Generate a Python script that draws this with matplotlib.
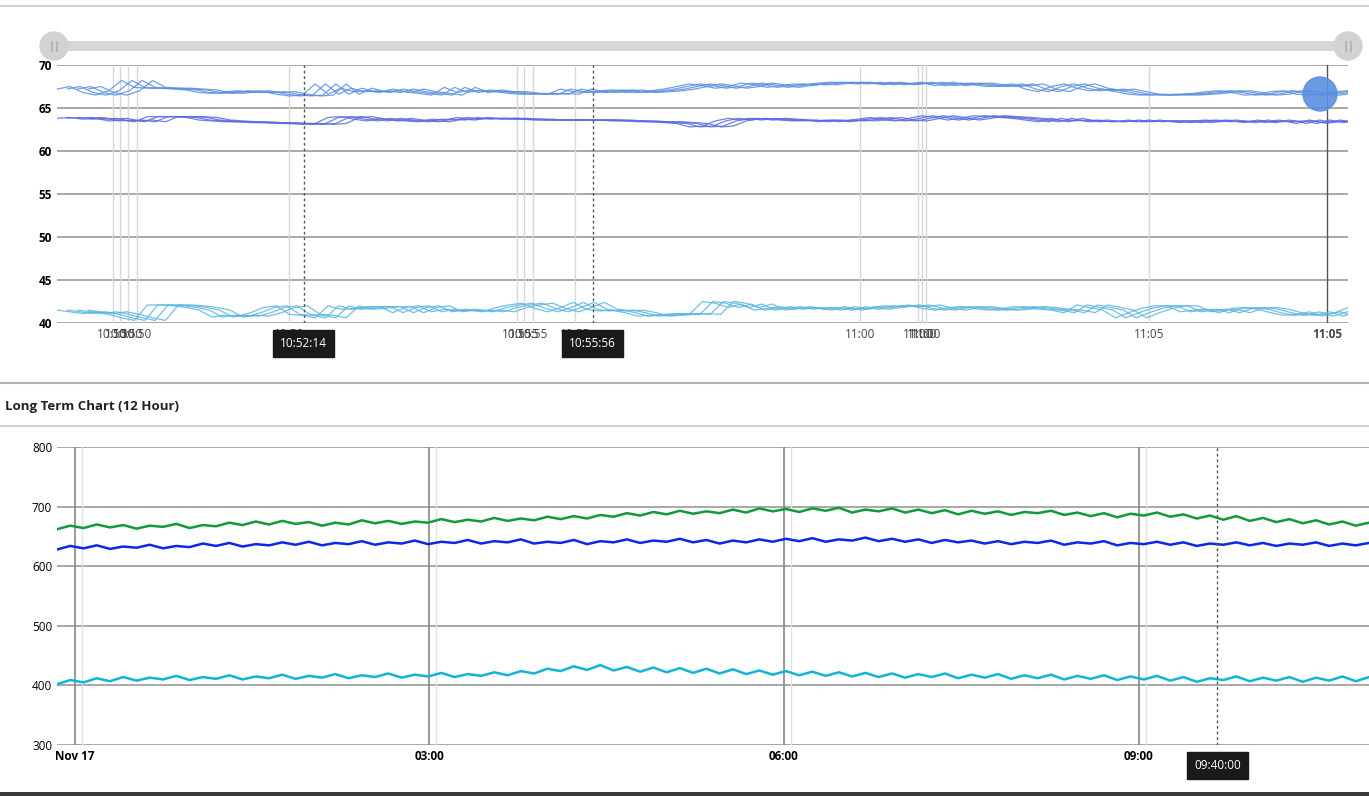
import numpy as np
import matplotlib
matplotlib.use("Agg")
import matplotlib.pyplot as plt
from matplotlib.patches import Rectangle, Ellipse
from matplotlib.lines import Line2D

plt.rcParams['font.family'] = ['Open Sans', 'DejaVu Sans']

# ---------- data: short term chart ----------
upper = [67.2,67.5,66.8,66.5,67.0,68.2,67.4,67.3,67.3,67.2,67.1,66.8,66.7,66.9,67.0,66.8,66.9,66.6,66.4,66.5,
         67.8,66.6,67.3,66.9,67.0,66.8,67.2,66.9,66.7,66.5,67.4,66.8,67.1,66.9,66.9,66.7,66.6,66.7,66.6,67.2,
         66.9,66.8,67.0,67.1,66.8,66.9,67.0,67.2,67.5,67.8,67.6,67.3,67.5,67.9,67.7,67.4,67.6,67.8,67.7,67.9,
         68.0,67.9,67.8,68.0,67.7,67.9,67.8,68.0,67.6,67.8,67.9,67.7,67.5,67.6,67.8,67.2,66.9,67.5,67.8,67.3,
         67.0,67.2,66.9,66.6,66.5,66.6,66.5,66.6,66.7,66.9,67.0,66.8,66.5,66.6,66.9,67.0,66.6,66.5,66.7,66.9,67.0]
middle = [63.8,63.9,63.7,63.8,63.5,63.6,63.4,64.0,64.0,64.0,63.9,63.6,63.5,63.4,63.4,63.3,63.3,63.2,63.2,63.1,
          63.2,63.9,64.0,63.7,63.5,63.8,63.6,63.5,63.4,63.7,63.6,63.9,63.7,63.8,63.8,63.7,63.7,63.6,63.6,63.6,
          63.6,63.6,63.6,63.5,63.5,63.4,63.4,63.3,63.2,62.8,62.9,63.5,63.8,63.6,63.8,63.7,63.6,63.5,63.6,63.4,
          63.6,63.5,63.7,63.9,63.6,63.5,63.8,64.1,63.9,63.6,63.8,64.1,64.0,63.9,63.8,63.6,63.4,63.8,63.5,63.6,
          63.4,63.5,63.4,63.6,63.4,63.5,63.5,63.3,63.5,63.6,63.4,63.5,63.3,63.6,63.4,63.5,63.2,63.6,63.3,63.5,63.4]
lower = [41.5,41.3,41.1,41.3,41.0,40.6,40.3,42.1,42.1,42.0,41.8,41.5,40.7,40.9,40.8,41.2,41.8,42.0,41.0,40.9,
         40.6,42.0,41.6,41.7,41.9,41.9,41.2,41.8,42.0,41.3,41.6,41.4,41.5,41.3,41.8,42.1,42.3,41.7,41.3,41.8,
         42.4,41.6,41.4,41.5,41.2,40.8,40.9,41.0,41.1,41.0,42.5,42.3,41.8,42.2,41.5,41.7,41.9,41.6,41.8,41.7,
         41.5,41.9,41.6,41.8,42.0,41.9,42.1,41.7,41.5,41.8,41.9,41.7,41.5,41.6,41.9,41.8,41.6,41.5,41.2,42.1,
         41.8,41.5,40.6,41.2,41.7,42.0,42.0,41.3,41.5,41.6,41.2,41.7,41.8,41.6,41.2,40.9,41.0,41.3,40.8,41.2,41.8]
copy_shifts = [0.0, 0.8, 1.6, 2.4]
top_tick_pos = [4.3, 4.9, 5.5, 6.2, 18.0, 35.6, 36.2, 36.9, 40.1, 62.2, 66.7, 67.0, 67.3, 84.6, 98.4]
top_tick_lab = ["10:50", "10:50", "10:50", "10:50", "10:50", "10:55", "10:55", "10:55", "10:55",
                "11:00", "11:00", "11:00", "11:00", "11:05", "11:05"]
top_cursors = [19.1, 41.5]
top_cursor_lab = ["10:52:14", "10:55:56"]

# ---------- data: long term chart ----------
green = [662,668,664,670,665,669,663,668,666,671,664,669,667,673,669,675,670,676,671,674,
         668,673,670,677,672,676,671,675,673,679,674,678,675,681,676,680,677,683,679,684,
         680,686,683,689,685,691,687,693,688,692,689,695,690,697,692,696,691,697,693,698,
         690,695,692,697,690,695,689,694,687,693,688,692,686,691,689,693,686,690,684,689,
         682,688,685,690,683,687,680,685,678,684,676,681,674,679,672,677,670,675,668,673]
blue = [628,634,630,635,629,633,631,636,630,634,632,638,634,639,633,637,635,640,636,641,
        635,639,637,642,636,640,638,643,637,641,639,644,638,642,640,645,638,641,639,644,
        637,642,640,645,639,643,641,646,640,644,638,643,640,645,641,646,642,647,641,645,
        643,648,642,646,641,645,639,644,640,643,638,642,637,641,639,643,636,640,638,642,
        635,639,637,641,636,640,634,638,636,640,635,639,634,638,636,640,634,638,635,639]
cyan = [402,409,405,412,407,414,408,413,410,416,409,414,411,417,410,415,412,418,411,416,
        413,419,412,417,414,420,413,418,415,421,414,419,416,422,417,424,420,428,424,432,
        426,434,425,431,423,430,422,429,421,428,420,427,419,425,418,424,417,423,416,422,
        415,421,414,420,413,419,414,420,412,418,413,419,411,417,412,418,410,416,411,417,
        409,415,410,416,408,414,406,412,409,415,407,413,408,414,406,413,408,415,407,414]
long_start, long_end = -0.15, 10.95
long_ticks = [0, 3, 6, 9]
long_tick_lab = ["Nov 17", "03:00", "06:00", "09:00"]
long_cursor = 9.667
long_cursor_lab = "09:40:00"

W, H = 1369, 796
fig = plt.figure(figsize=(W/100, H/100), dpi=100)

def fx(px): return px / W
def fy(py): return 1 - py / H

# ---- decorations ----
for yy, c in [(6, '#d0d0d0'), (383, '#b0b0b0'), (426, '#d0d0d0')]:
    fig.add_artist(Line2D([0, 1], [fy(yy), fy(yy)], color=c, lw=1.5))
fig.add_artist(Rectangle((fx(54), fy(51)), fx(1294), 10/H, color='#d6d6d6', lw=0))
for cx in (54, 1348):
    fig.add_artist(Ellipse((fx(cx), fy(46)), 28/W, 28/H, color='#d2d2d2'))
    fig.text(fx(cx), fy(46), "||", ha='center', va='center', fontsize=8, color='#888888')
fig.text(fx(5), fy(406), "Long Term Chart (12 Hour)", fontsize=9.5, fontweight='bold',
         va='center', color='#222222')

# ---- top axes ----
ax = fig.add_axes([fx(57), fy(323), fx(1348 - 57), (323 - 65) / H])
cols = ['#5b8fe0', '#5a6be0', '#5bb5e0']
for series, col in zip([upper, middle, lower], cols):
    x = np.arange(len(series))
    for s in copy_shifts:
        ax.plot(x + s, series, color=col, lw=0.9, alpha=0.85)
ax.set_xlim(0, 100)
ax.set_ylim(40, 70)
ax.set_yticks([40, 45, 50, 55, 60, 65, 70])
for yv in [40, 45, 50, 55, 60, 65, 70]:
    ax.axhline(yv, color='#999999', lw=1.2, zorder=0)
for i, p in enumerate(top_tick_pos):
    ax.axvline(p, color='#555555' if i == len(top_tick_pos) - 1 else '#d8d8d8', lw=1, zorder=0)
ax.set_xticks(top_tick_pos)
ax.set_xticklabels(top_tick_lab, fontsize=8.5, color='#444444')
ax.get_xticklabels()[-1].set_fontweight('bold')
ax.tick_params(length=0, labelsize=8.5)
for lab in ax.get_yticklabels():
    lab.set_fontweight('bold')
for sp in ax.spines.values():
    sp.set_visible(False)
for p, lab in zip(top_cursors, top_cursor_lab):
    ax.axvline(p, color='#555555', lw=1, ls=(0, (2, 2)))
    ax.annotate(lab, (p, 40), xytext=(0, -15), textcoords='offset points', ha='center', va='center',
                fontsize=8.5, color='white',
                bbox=dict(boxstyle='square,pad=0.6', fc='#1a1a1a', ec='#1a1a1a'), annotation_clip=False)
fig.add_artist(Ellipse((fx(1320), fy(94)), 34/W, 34/H, color='#5b8fe0', alpha=0.9))

# ---- bottom axes ----
bx = fig.add_axes([fx(57), fy(745), 1 - fx(57), (745 - 447) / H])
for series, col in [(green, '#109a3a'), (blue, '#0a28e6'), (cyan, '#12b4d6')]:
    x = np.linspace(long_start, long_end, len(series))
    bx.plot(x, series, color=col, lw=1.8)
bx.set_xlim(long_start, long_end)
bx.set_ylim(300, 800)
for yv in range(300, 801, 100):
    bx.axhline(yv, color='#999999', lw=1.2, zorder=0)
for t in long_ticks:
    bx.axvline(t, color='#888888', lw=1.2, zorder=0)
    bx.axvline(t + 0.06, color='#e2e2e2', lw=1, zorder=0)
bx.set_yticks(range(300, 801, 100))
bx.set_xticks(long_ticks)
bx.set_xticklabels(long_tick_lab, fontsize=8.5, fontweight='bold')
bx.tick_params(length=0, labelsize=8.5)
for sp in bx.spines.values():
    sp.set_visible(False)
bx.axvline(long_cursor, color='#555555', lw=1, ls=(0, (2, 2)))
bx.annotate(long_cursor_lab, (long_cursor, 300), xytext=(0, -15), textcoords='offset points',
            ha='center', va='center', fontsize=8.5, color='white',
            bbox=dict(boxstyle='square,pad=0.6', fc='#1a1a1a', ec='#1a1a1a'), annotation_clip=False)
fig.add_artist(Rectangle((0, 0), 1, 4/H, color='#3a3a3a', lw=0))

fig.savefig("out.png", dpi=100)
